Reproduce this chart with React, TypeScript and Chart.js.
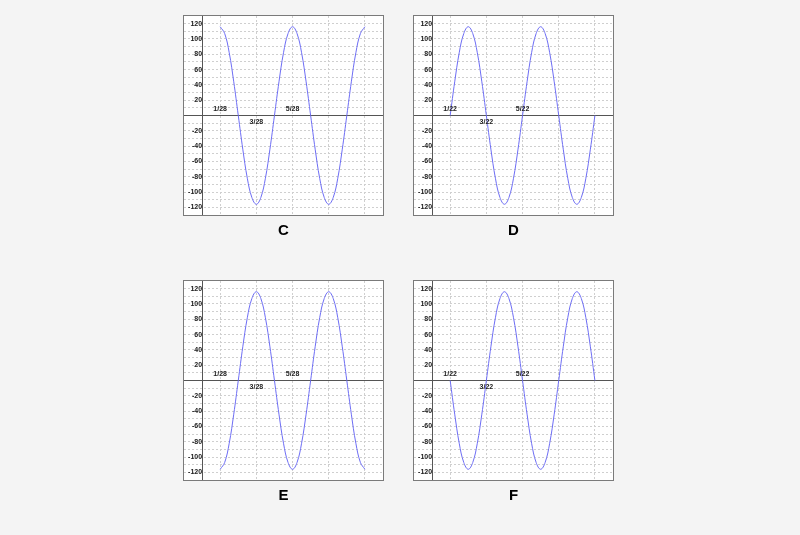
import React, { useEffect, useRef } from "react";
import { Chart, registerables } from "chart.js";

Chart.register(...registerables);

// x positions in units of pi
const X_POS = [
  0.5, 0.625, 0.75, 0.875, 1, 1.125, 1.25, 1.375, 1.5, 1.625, 1.75, 1.875, 2,
  2.125, 2.25, 2.375, 2.5, 2.625, 2.75, 2.875, 3, 3.125, 3.25, 3.375, 3.5,
  3.625, 3.75, 3.875, 4, 4.125, 4.25, 4.375, 4.5,
];

const SERIES_C = [
  116, 107, 82, 44, 0, -44, -82, -107, -116, -107, -82, -44, 0, 44, 82, 107,
  116, 107, 82, 44, 0, -44, -82, -107, -116, -107, -82, -44, 0, 44, 82, 107, 116,
];
const SERIES_D = [
  0, 44, 82, 107, 116, 107, 82, 44, 0, -44, -82, -107, -116, -107, -82, -44,
  0, 44, 82, 107, 116, 107, 82, 44, 0, -44, -82, -107, -116, -107, -82, -44, 0,
];
const SERIES_E = [
  -116, -107, -82, -44, 0, 44, 82, 107, 116, 107, 82, 44, 0, -44, -82, -107,
  -116, -107, -82, -44, 0, 44, 82, 107, 116, 107, 82, 44, 0, -44, -82, -107, -116,
];
const SERIES_F = [
  0, -44, -82, -107, -116, -107, -82, -44, 0, 44, 82, 107, 116, 107, 82, 44,
  0, -44, -82, -107, -116, -107, -82, -44, 0, 44, 82, 107, 116, 107, 82, 44, 0,
];

const X_GRID = [0.5, 1.5, 2.5, 3.5, 4.5];
const Y_GRID = [
  -130, -120, -110, -100, -90, -80, -70, -60, -50, -40, -30, -20, -10, 0, 10,
  20, 30, 40, 50, 60, 70, 80, 90, 100, 110, 120, 130,
];
const Y_TICK_LABELS = [120, 100, 80, 60, 40, 20, -20, -40, -60, -80, -100, -120];
const X_LABEL_POS = [0.5, 1.5, 2.5];
const X_LABELS_CE = ["1/28", "3/28", "5/28"];
const X_LABELS_DF = ["1/22", "3/22", "5/22"];
const X_LABEL_SIDE = [1, -1, 1]; // 1 = above axis, -1 = below

const X_MIN = -0.5;
const X_MAX = 5;
const Y_MIN = -130;
const Y_MAX = 130;

const PAD = 10;
const PLOT = 199;
const TITLE_H = 25;

const FONT_FAMILY = "'Liberation Sans', Arial, sans-serif";
const LABEL_FONT = `bold 7px ${FONT_FAMILY}`;

type Props = {
  left: number;
  top: number;
  title: string;
  values: number[];
  xLabels: string[];
};

function SineChart({ left, top, title, values, xLabels }: Props) {
  const ref = useRef<HTMLCanvasElement | null>(null);

  useEffect(() => {
    if (!ref.current) return;
    const framePlugin = {
      id: "frame",
      beforeDraw(chart: any) {
        const { ctx, chartArea: a } = chart;
        ctx.save();
        ctx.fillStyle = "#ffffff";
        ctx.fillRect(a.left, a.top, a.right - a.left, a.bottom - a.top);
        ctx.restore();
      },
      afterDraw(chart: any) {
        const { ctx, chartArea: a } = chart;
        const xs = chart.scales.x;
        const ys = chart.scales.y;
        ctx.save();
        ctx.strokeStyle = "#7a7a7a";
        ctx.lineWidth = 1;
        ctx.strokeRect(a.left - 0.5, a.top - 0.5, a.right - a.left + 1, a.bottom - a.top + 1);
        ctx.fillStyle = "#222";
        ctx.font = LABEL_FONT;
        ctx.textAlign = "center";
        ctx.textBaseline = "middle";
        const y0 = ys.getPixelForValue(0);
        X_LABEL_POS.forEach((v, i) => {
          const px = xs.getPixelForValue(v);
          const py = y0 - X_LABEL_SIDE[i] * 6.5;
          ctx.fillText(xLabels[i], px, py);
        });
        ctx.restore();
      },
    };

    const chart = new Chart(ref.current, {
      type: "line",
      data: {
        datasets: [
          {
            data: X_POS.map((x, i) => ({ x, y: values[i] })),
            borderColor: "#6e6ef5",
            borderWidth: 1,
            pointRadius: 0,
            fill: false,
            tension: 0.4,
          },
        ],
      },
      options: {
        animation: false,
        responsive: false,
        devicePixelRatio: 1,
        layout: { padding: { top: PAD, left: PAD, right: PAD, bottom: 0 } },
        plugins: {
          legend: { display: false },
          tooltip: { enabled: false },
          title: {
            display: true,
            text: title,
            position: "bottom",
            color: "#000",
            font: { size: 15, weight: "bold", family: FONT_FAMILY },
            padding: { top: 7, bottom: 0 },
          },
        },
        scales: {
          x: {
            type: "linear",
            min: X_MIN,
            max: X_MAX,
            position: { y: 0 },
            afterBuildTicks: (scale: any) => {
              scale.ticks = X_GRID.map((v) => ({ value: v }));
            },
            ticks: { display: false },
            grid: { color: "#cfcfcf", lineWidth: 1, drawTicks: false },
            border: { display: true, color: "#555", width: 1, dash: [2, 2] },
          },
          y: {
            type: "linear",
            min: Y_MIN,
            max: Y_MAX,
            position: { x: 0 },
            afterBuildTicks: (scale: any) => {
              scale.ticks = Y_GRID.map((v) => ({ value: v }));
            },
            ticks: {
              autoSkip: false,
              padding: 2,
              color: "#222",
              font: { size: 7, weight: "bold", family: FONT_FAMILY },
              callback: (v: any) => (Y_TICK_LABELS.includes(Number(v)) ? String(v) : ""),
            },
            grid: {
              drawTicks: false,
              lineWidth: 1,
              color: (c: any) => {
                const v = c.tick ? c.tick.value : 0;
                return v === 0 || Math.abs(v) >= Y_MAX ? "rgba(0,0,0,0)" : "#cfcfcf";
              },
            },
            border: { display: true, color: "#555", width: 1, dash: [2, 2] },
          },
        },
      },
      plugins: [framePlugin],
    } as any);
    return () => chart.destroy();
  }, [title, values, xLabels]);

  const w = PLOT + 2 * PAD;
  const h = PAD + PLOT + TITLE_H;
  return (
    <canvas
      ref={ref}
      width={w}
      height={h}
      style={{ position: "absolute", left: left - PAD, top: top - PAD, width: w, height: h }}
    />
  );
}

export default function App() {
  return (
    <div
      style={{
        position: "fixed",
        left: 0,
        top: 0,
        width: 800,
        height: 535,
        background: "#f4f4f4",
        overflow: "hidden",
      }}
    >
      <SineChart left={184} top={16} title="C" values={SERIES_C} xLabels={X_LABELS_CE} />
      <SineChart left={414} top={16} title="D" values={SERIES_D} xLabels={X_LABELS_DF} />
      <SineChart left={184} top={281} title="E" values={SERIES_E} xLabels={X_LABELS_CE} />
      <SineChart left={414} top={281} title="F" values={SERIES_F} xLabels={X_LABELS_DF} />
    </div>
  );
}
